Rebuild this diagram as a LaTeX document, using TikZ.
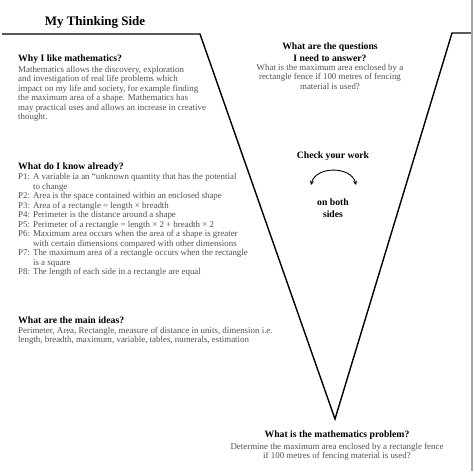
\documentclass[tikz,border=0pt]{standalone}
\usepackage{fontspec}
\setmainfont{Liberation Serif}
\usepackage{tikz}
\usetikzlibrary{arrows, positioning}

\definecolor{bodygray}{RGB}{80,80,80}

\begin{document}
\begin{tikzpicture}[x=1pt, y=-1pt,
    head/.style={inner sep=0pt, font=\bfseries\fontsize{9.7}{11.5}\selectfont, align=center},
    body/.style={inner sep=0pt, text=bodygray, font=\fontsize{8.9}{9.5}\selectfont},
    vline/.style={draw, line width=1.4pt, line join=miter},
    arrow/.style={draw, line width=0.9pt, <->, >=stealth}
]
    \useasboundingbox (0,0) rectangle (474,475);

    % the V outline
    \coordinate (lt) at (2,34);
    \coordinate (vl) at (200,34);
    \coordinate (apex) at (335,419);
    \coordinate (vr) at (452,33);
    \coordinate (rt) at (472,33);
    \draw[vline] (lt) -- (vl) -- (apex) -- (vr) -- (rt);
    \draw[gray!70, line width=1.3pt] (472,0) -- (472,471);

    \node[head, font=\bfseries\fontsize{13}{15}\selectfont] (title) at (95,22) {My Thinking Side};

    % left side
    \node[head, anchor=base west] (whyhead) at (18,61) {Why I like mathematics?};
    \node[body, anchor=north west, align=left] (whybody) at (18,66) {Mathematics allows the discovery, exploration\\
        and investigation of real life problems which\\
        impact on my life and society, for example finding\\
        the maximum area of a shape. Mathematics has\\
        may practical uses and allows an increase in creative\\
        thought.};

    \node[head, anchor=base west] (knowhead) at (18,169) {What do I know already?};
    \node[body, anchor=north west] (knowbody) at (18,173) {\renewcommand{\arraystretch}{1}%
        \begin{tabular}{@{}l@{\hspace{3pt}}l@{}}
        P1: & A variable ia an “unknown quantity that has the potential\\
            & to change\\
        P2: & Area is the space contained within an enclosed shape\\
        P3: & Area of a rectangle = length × breadth\\
        P4: & Perimeter is the distance around a shape\\
        P5: & Perimeter of a rectangle = length × 2 + breadth × 2\\
        P6: & Maximum area occurs when the area of a shape is greater\\
            & with certain dimensions compared with other dimensions\\
        P7: & The maximum area of a rectangle occurs when the rectangle\\
            & is a square\\
        P8: & The length of each side in a rectangle are equal
        \end{tabular}};

    \node[head, anchor=base west] (ideashead) at (18,323) {What are the main ideas?};
    \node[body, anchor=north west, align=left] (ideasbody) at (18,327) {Perimeter, Area, Rectangle, measure of distance in units, dimension i.e.\\
        length, breadth, maximum, variable, tables, numerals, estimation};

    % right side
    \node[head, anchor=base] (qhead) at (330,61) {What are the questions\\I need to answer?};
    \node[body, anchor=north, align=center] (qbody) at (330,64) {What is the maximum area enclosed by a\\
        rectangle fence if 100 metres of fencing\\
        material is used?};

    \node[head, anchor=base] (check) at (333,158) {Check your work};
    \coordinate (cl) at (311,185);
    \coordinate (cr) at (356,185);
    \draw[arrow] (cl) .. controls (316,166) and (351,166) .. (cr);
    \node[head, anchor=base] (both) at (333,217) {on both\\sides};

    % bottom
    \node[head, anchor=base] (probhead) at (337,437) {What is the mathematics problem?};
    \node[body, anchor=north, align=center] (probbody) at (337,443) {Determine the maximum area enclosed by a rectangle fence\\
        if 100 metres of fencing material is used?};
\end{tikzpicture}
\end{document}
